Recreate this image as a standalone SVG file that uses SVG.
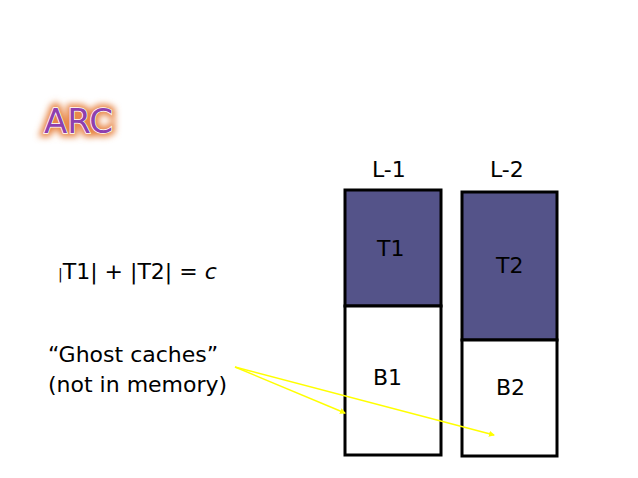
<svg xmlns="http://www.w3.org/2000/svg" width="638" height="478" viewBox="0 0 638 478">
<style>
.t{font-family:"DejaVu Sans","Liberation Sans",sans-serif;font-size:22px;fill:#000}
.box{stroke:#000;stroke-width:3}
.ln{stroke:#ffff00;stroke-width:1.5;fill:none;marker-end:url(#a)}
</style>
<defs>
<filter id="g" x="-30%" y="-30%" width="160%" height="160%"><feGaussianBlur stdDeviation="3"/></filter>
<marker id="a" markerWidth="6" markerHeight="6" refX="5" refY="3" orient="auto" markerUnits="userSpaceOnUse"><path d="M0,0 L6,3 L0,6 z" fill="#ffff00"/></marker>
</defs>
<rect width="638" height="478" fill="#fff"/>
<g id="title">
<text x="44" y="133" font-family="DejaVu Sans,sans-serif" font-size="34" fill="none" stroke="#e8884a" stroke-width="8" filter="url(#g)">ARC</text>
<text x="44" y="133" font-family="DejaVu Sans,sans-serif" font-size="34" fill="#8e3fae" stroke="#fff" stroke-width="1.5" paint-order="stroke">ARC</text>
</g>
<g id="eq"><text class="t" x="58" y="279"><tspan font-size="14">|</tspan>T1| + |T2| = <tspan font-style="italic">c</tspan></text></g>
<g id="ghost"><text class="t" x="48" y="362">“Ghost caches”</text><text class="t" x="48" y="392">(not in memory)</text></g>
<g id="L1">
<text class="t" x="372" y="177">L-1</text>
<rect class="box" x="345" y="190" width="96" height="116" fill="#545389"/>
<rect class="box" x="345" y="306" width="96" height="149" fill="#fff"/>
<text class="t" x="377" y="256">T1</text>
<text class="t" x="373" y="385">B1</text>
</g>
<g id="L2">
<text class="t" x="490" y="177">L-2</text>
<rect class="box" x="462" y="192" width="95" height="148" fill="#545389"/>
<rect class="box" x="462" y="340" width="95" height="116" fill="#fff"/>
<text class="t" x="496" y="273">T2</text>
<text class="t" x="496" y="395">B2</text>
</g>
<g id="connectors">
<path class="ln" d="M235,367 L345,413"/>
<path class="ln" d="M235,367 L494,435"/>
</g>
</svg>
